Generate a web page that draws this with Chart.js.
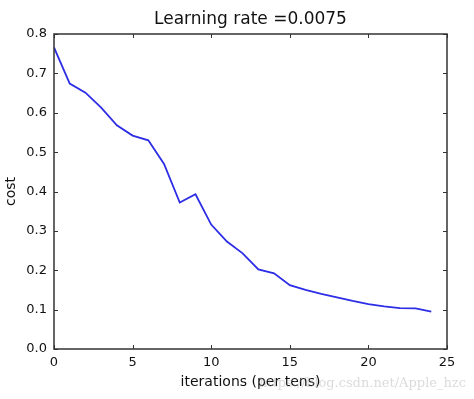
<!DOCTYPE html>
<html>
<head>
<meta charset="utf-8">
<script src="https://cdn.jsdelivr.net/npm/chart.js@4"></script>
<style>
  html, body { margin: 0; padding: 0; background: #fff; }
  #wrap { width: 474px; height: 399px; position: relative; }
</style>
</head>
<body>
<div id="wrap"><canvas id="c" width="474" height="399"></canvas></div>
<script>
const iterations = [0,1,2,3,4,5,6,7,8,9,10,11,12,13,14,15,16,17,18,19,20,21,22,23,24];
const costs = [0.766,0.674,0.651,0.613,0.568,0.542,0.530,0.470,0.372,0.393,0.316,0.273,0.243,0.202,0.192,0.162,0.150,0.140,0.131,0.122,0.114,0.108,0.104,0.103,0.095];
const xTicks = [0,5,10,15,20,25];
const yTicks = [0.0,0.1,0.2,0.3,0.4,0.5,0.6,0.7,0.8];
const titleText = 'Learning rate =0.0075';
const xLabel = 'iterations (per tens)';
const yLabel = 'cost';
const watermark = 'https://blog.csdn.net/Apple_hzc';

const FONT = "'DejaVu Sans', sans-serif";
const AXIS_COLOR = '#333333';

const innerTicks = {
  id: 'innerTicks',
  afterDatasetsDraw(chart) {
    const {ctx, chartArea: a, scales: {x, y}} = chart;
    ctx.save();
    ctx.strokeStyle = AXIS_COLOR;
    ctx.lineWidth = 1;
    const L = 4;
    ctx.beginPath();
    xTicks.forEach(v => {
      const px = Math.round(x.getPixelForValue(v)) + 0.5;
      ctx.moveTo(px, a.bottom); ctx.lineTo(px, a.bottom - L);
      ctx.moveTo(px, a.top); ctx.lineTo(px, a.top + L);
    });
    yTicks.forEach(v => {
      const py = Math.round(y.getPixelForValue(v)) + 0.5;
      ctx.moveTo(a.left, py); ctx.lineTo(a.left + L, py);
      ctx.moveTo(a.right, py); ctx.lineTo(a.right - L, py);
    });
    ctx.stroke();
    ctx.lineWidth = 1.5;
    ctx.strokeRect(a.left, a.top, a.right - a.left, a.bottom - a.top);
    // faint watermark
    ctx.fillStyle = 'rgba(175,175,175,0.45)';
    ctx.font = "13px 'DejaVu Serif', serif";
    ctx.textAlign = 'right';
    ctx.textBaseline = 'middle';
    ctx.fillText(watermark, 466, 384);
    ctx.restore();
  }
};

new Chart(document.getElementById('c'), {
  type: 'line',
  data: {
    datasets: [{
      data: iterations.map((v, i) => ({x: v, y: costs[i]})),
      borderColor: 'rgb(45,45,230)',
      borderWidth: 1.8,
      pointRadius: 0,
      tension: 0,
      fill: false
    }]
  },
  options: {
    responsive: false,
    animation: false,
    devicePixelRatio: 1,
    layout: { padding: { left: 0, right: 27, top: 0, bottom: 0 } },
    plugins: {
      legend: { display: false },
      tooltip: { enabled: false },
      title: {
        display: true,
        fullSize: false,
        text: titleText,
        color: '#111',
        font: { family: FONT, size: 17, weight: 'normal', lineHeight: 1.2 },
        padding: { top: 9, bottom: 4.6 }
      }
    },
    scales: {
      x: {
        type: 'linear',
        min: 0, max: 25,
        afterBuildTicks(s) { s.ticks = xTicks.map(v => ({value: v})); },
        afterFit(s) { s.height = 50; },
        grid: { display: false, drawTicks: false },
        border: { display: false },
        ticks: {
          color: '#111',
          font: { family: FONT, size: 13 },
          padding: 6,
          maxRotation: 0,
          callback: v => String(v)
        },
        title: {
          display: true,
          text: xLabel,
          color: '#111',
          font: { family: FONT, size: 14 },
          padding: { top: 0, bottom: 8 }
        }
      },
      y: {
        type: 'linear',
        min: 0, max: 0.8,
        afterBuildTicks(s) { s.ticks = yTicks.map(v => ({value: v})); },
        afterFit(s) { s.width = 54; },
        grid: { display: false, drawTicks: false },
        border: { display: false },
        ticks: {
          color: '#111',
          font: { family: FONT, size: 13 },
          padding: 7,
          callback: v => Number(v).toFixed(1)
        },
        title: {
          display: true,
          text: yLabel,
          color: '#111',
          font: { family: FONT, size: 14 },
          padding: { top: 3, bottom: 0 }
        }
      }
    }
  },
  plugins: [innerTicks]
});
</script>
</body>
</html>
